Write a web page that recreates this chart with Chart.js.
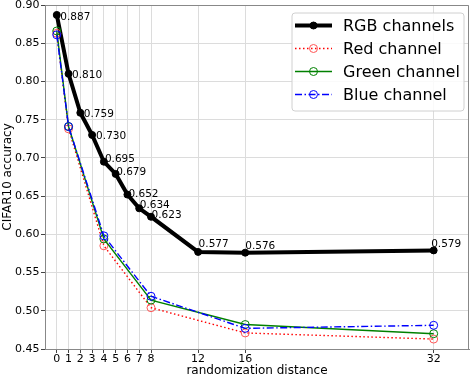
<!DOCTYPE html>
<html><head><meta charset="utf-8">
<script src="https://cdn.jsdelivr.net/npm/chart.js@4"></script>
<style>html,body{margin:0;padding:0;background:#fff}canvas{display:block}</style>
</head><body>
<canvas id="c" width="474" height="379"></canvas>
<script>
const rgbX = [0,1,2,3,4,5,6,7,8,12,16,32];
const rgbY = [0.887,0.810,0.759,0.730,0.695,0.679,0.652,0.634,0.623,0.577,0.576,0.579];
const chanX = [0,1,4,8,16,32];
const redY = [0.863,0.738,0.585,0.504,0.471,0.463];
const greenY = [0.866,0.741,0.594,0.514,0.482,0.470];
const blueY = [0.861,0.741,0.598,0.519,0.477,0.481];
const xTicks = [0,1,2,3,4,5,6,7,8,12,16,32];
const seriesNames = ['RGB channels','Red channel','Green channel','Blue channel'];

const FONT = "'DejaVu Sans', sans-serif";
const pts = (xs, ys) => xs.map((x,i)=>({x:x, y:ys[i]}));

// label offsets in px (style only)
const labDx = [3.5,3.5,3.5,4,1,0.5,1,0.5,0.5,0.5,0,-2.5];
const labDy = [5,4,4,4.5,0.5,1.5,2,0,1,-4.5,-4,-3];

const labelPlugin = {
  id:'labels',
  afterDatasetsDraw(chart){
    const ctx = chart.ctx;
    const meta = chart.getDatasetMeta(0);
    ctx.save();
    ctx.font = "10.5px " + FONT;
    ctx.fillStyle = '#000';
    ctx.textAlign = 'left';
    ctx.textBaseline = 'alphabetic';
    meta.data.forEach((p,i)=>{
      ctx.fillText(rgbY[i].toFixed(3), p.x + labDx[i], p.y + labDy[i]);
    });
    ctx.restore();
  }
};

const framePlugin = {
  id:'frame',
  afterDraw(chart){
    const a = chart.chartArea, ctx = chart.ctx;
    ctx.save();
    ctx.strokeStyle = '#888';
    ctx.lineWidth = 1;
    ctx.beginPath();
    ctx.moveTo(a.left, a.top+0.5); ctx.lineTo(a.right-0.5, a.top+0.5); ctx.lineTo(a.right-0.5, a.bottom);
    ctx.stroke();
    // legend
    const lx=292, ly=13, lw=172, lh=98, r=3;
    ctx.fillStyle='rgba(255,255,255,0.85)';
    ctx.strokeStyle='#d0d0d0';
    ctx.beginPath();
    ctx.moveTo(lx+r,ly); ctx.lineTo(lx+lw-r,ly); ctx.arcTo(lx+lw,ly,lx+lw,ly+r,r);
    ctx.lineTo(lx+lw,ly+lh-r); ctx.arcTo(lx+lw,ly+lh,lx+lw-r,ly+lh,r);
    ctx.lineTo(lx+r,ly+lh); ctx.arcTo(lx,ly+lh,lx,ly+lh-r,r);
    ctx.lineTo(lx,ly+r); ctx.arcTo(lx,ly,lx+r,ly,r);
    ctx.closePath(); ctx.fill(); ctx.stroke();
    chart.data.datasets.forEach((ds,i)=>{
      const y = 25.5 + i*23;
      ctx.strokeStyle = ds.borderColor;
      ctx.lineWidth = ds.borderWidth;
      ctx.setLineDash(ds.borderDash || []);
      ctx.beginPath(); ctx.moveTo(295,y); ctx.lineTo(332,y); ctx.stroke();
      ctx.setLineDash([]);
      ctx.beginPath(); ctx.arc(313.5,y,ds.pointRadius,0,Math.PI*2);
      ctx.fillStyle = ds.pointBackgroundColor;
      ctx.fill();
      ctx.lineWidth = ds.pointBorderWidth;
      ctx.strokeStyle = ds.pointBorderColor;
      ctx.stroke();
      ctx.fillStyle='#000';
      ctx.font = "16px " + FONT;
      ctx.textAlign='left'; ctx.textBaseline='middle';
      ctx.fillText(seriesNames[i], 343, y+1);
    });
    ctx.restore();
  }
};

new Chart(document.getElementById('c'), {
  type:'line',
  data:{
    datasets:[
      {label:seriesNames[0], data:pts(rgbX,rgbY), borderColor:'#000', borderWidth:4,
       pointRadius:3.5, pointBackgroundColor:'#000', pointBorderColor:'#000', pointBorderWidth:1, order:4},
      {label:seriesNames[1], data:pts(chanX,redY), borderColor:'#ff0000', borderWidth:1.4, borderDash:[1.5,2.5],
       pointRadius:4, pointBackgroundColor:'rgba(0,0,0,0)', pointBorderColor:'#ff5555', pointBorderWidth:1, order:3},
      {label:seriesNames[2], data:pts(chanX,greenY), borderColor:'#008000', borderWidth:1.4,
       pointRadius:4, pointBackgroundColor:'rgba(0,0,0,0)', pointBorderColor:'#008000', pointBorderWidth:1, order:2},
      {label:seriesNames[3], data:pts(chanX,blueY), borderColor:'#0000ff', borderWidth:1.4, borderDash:[7,2.5,1.5,2.5],
       pointRadius:4, pointBackgroundColor:'rgba(0,0,0,0)', pointBorderColor:'#0000ff', pointBorderWidth:1, order:1}
    ]
  },
  options:{
    responsive:false, devicePixelRatio:1, animation:false,
    layout:{padding:{top:5,right:1,left:0,bottom:0}},
    plugins:{legend:{display:false}, tooltip:{enabled:false}},
    elements:{line:{tension:0}},
    scales:{
      x:{type:'linear', min:-1, max:35,
        afterBuildTicks(s){ s.ticks = xTicks.map(v=>({value:v})); },
        afterFit(s){ s.height = 30; s.paddingLeft=0; s.paddingRight=0; },
        ticks:{autoSkip:false, maxRotation:0, padding:0, color:'#000', font:{family:FONT,size:11},
          callback:(v)=>String(v)},
        grid:{color:'#dcdcdc', tickColor:'#444', tickLength:4, lineWidth:1},
        border:{color:'#888', width:1},
        title:{display:true, text:'randomization distance', color:'#000', font:{family:FONT,size:12}, padding:{top:0,bottom:0.5}}
      },
      y:{min:0.45, max:0.9,
        afterBuildTicks(s){ const t=[]; for(let k=0;k<=9;k++) t.push({value:+(0.45+k*0.05).toFixed(2)}); s.ticks=t; },
        afterFit(s){ s.width = 45; s.paddingTop=0; s.paddingBottom=0; },
        ticks:{padding:1.5, color:'#000', font:{family:FONT,size:11}, callback:(v)=>v.toFixed(2)},
        grid:{color:'#dcdcdc', tickColor:'#444', tickLength:4, lineWidth:1},
        border:{color:'#888', width:1},
        title:{display:true, text:'CIFAR10 accuracy', color:'#000', font:{family:FONT,size:12}, padding:{top:1,bottom:0}}
      }
    }
  },
  plugins:[labelPlugin, framePlugin]
});
</script>
</body></html>
